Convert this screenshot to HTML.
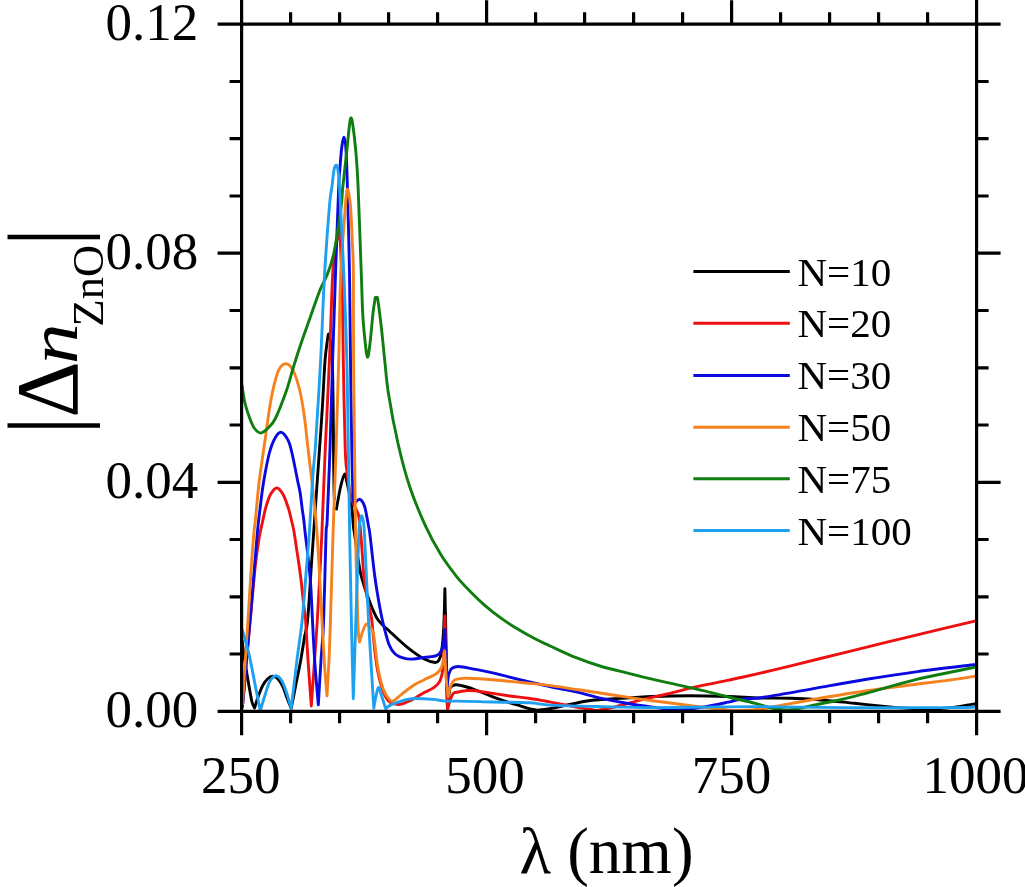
<!DOCTYPE html>
<html lang="en"><head><meta charset="utf-8"><title>ZnO refractive index difference</title>
<style>html,body{margin:0;padding:0;background:#fff}body{width:1025px;height:887px;position:relative;overflow:hidden;font-family:"Liberation Serif",serif}</style>
</head><body>
<svg width="1025" height="887" viewBox="0 0 1025 887" style="position:absolute;left:0;top:0">
<rect width="1025" height="887" fill="#fff"/>
<defs><clipPath id="cp"><rect x="241.6" y="-5.8" width="736.2" height="718.6"/></clipPath></defs>
<g fill="none" stroke-width="2.9" stroke-linejoin="round" stroke-linecap="butt" clip-path="url(#cp)">
<path d="M242.0 640.0C242.5 643.7 243.8 654.3 245.0 662.0C246.2 669.7 247.8 679.3 249.0 686.0C250.2 692.7 251.1 698.3 252.0 702.0C252.9 705.7 254.2 707.0 254.6 708.0C255.2 706.2 256.6 700.8 258.0 697.0C259.4 693.2 261.3 688.1 263.0 685.0C264.7 681.9 266.4 680.0 268.0 678.5C269.6 677.0 271.2 676.2 272.9 676.3C274.6 676.4 276.3 677.2 278.0 679.0C279.7 680.8 281.5 683.8 283.0 687.0C284.5 690.2 285.6 694.4 287.0 698.0C288.4 701.6 290.5 706.8 291.2 708.5C292.0 704.4 294.4 692.0 296.0 684.0C297.6 676.0 299.3 668.3 300.7 660.5C302.1 652.7 303.4 643.8 304.5 637.0C305.6 630.2 306.5 632.0 307.6 620.0C308.8 608.0 310.4 579.2 311.4 565.0C312.4 550.8 312.7 546.2 313.5 535.0C314.3 523.8 315.1 512.1 316.1 497.6C317.1 483.1 318.5 463.4 319.6 448.0C320.7 432.6 321.6 419.5 322.5 405.0C323.4 390.5 324.2 371.3 325.0 361.0C325.8 350.7 326.4 347.5 327.0 343.0C327.6 338.5 328.1 333.7 328.8 334.0C329.5 334.3 330.4 339.8 331.0 345.0C331.6 350.2 332.0 354.2 332.4 365.0C332.8 375.8 333.0 396.2 333.2 410.0C333.4 423.8 333.4 435.2 333.5 448.0C333.6 460.8 333.9 478.3 334.0 487.0C334.1 495.7 334.3 497.8 334.4 500.0M336.3 510.3C336.6 508.6 337.2 504.2 338.0 500.0C338.8 495.8 339.9 489.3 341.0 485.0C342.1 480.7 343.6 474.4 344.6 474.0C345.6 473.6 346.1 478.5 347.0 482.3C347.9 486.1 349.2 492.6 350.0 497.0C350.8 501.4 351.4 504.1 352.0 509.0C352.6 513.9 352.9 522.1 353.4 526.4C353.8 530.7 354.0 530.2 354.7 535.0C355.4 539.8 356.5 548.5 357.5 555.0C358.5 561.5 359.6 568.9 360.8 574.2C362.0 579.5 363.2 582.9 364.5 587.0C365.8 591.1 367.2 594.9 368.6 598.7C370.0 602.5 371.4 606.4 373.0 610.0C374.6 613.6 375.6 616.7 378.4 620.3C381.2 623.9 385.2 627.2 390.0 631.7C394.8 636.2 401.4 642.5 407.1 647.1C412.8 651.7 419.6 656.5 424.3 659.1C429.0 661.7 432.9 662.4 435.4 662.5C437.8 662.6 438.0 661.7 439.0 660.0C440.0 658.3 440.7 656.2 441.4 652.2C442.1 648.2 442.8 641.1 443.2 636.0C443.6 630.9 443.7 629.3 444.0 621.4C444.3 613.5 444.8 594.1 444.9 588.6C445.1 597.2 445.6 620.4 446.0 640.0C446.4 659.6 447.1 695.0 447.3 706.0C447.6 704.0 448.6 697.0 449.0 694.0C449.4 691.0 449.3 689.6 450.0 688.2C450.7 686.8 451.9 686.1 453.0 685.5C454.1 684.9 454.5 684.6 456.5 684.8C458.5 685.0 461.8 685.6 465.0 686.5C468.2 687.4 471.1 688.3 475.7 690.0C480.3 691.7 487.1 694.7 492.8 696.8C498.5 698.9 505.4 701.3 510.0 702.8C514.6 704.3 517.0 704.9 520.3 705.9C523.6 706.9 527.0 708.1 530.0 708.8C533.0 709.5 536.7 710.0 538.0 710.2C539.7 710.0 543.8 709.7 548.0 709.0C552.2 708.3 556.6 707.3 563.4 705.9C570.2 704.5 580.3 702.0 588.8 700.8C597.3 699.6 603.6 699.5 614.2 698.8C624.8 698.1 639.5 697.0 652.2 696.5C664.9 696.0 677.6 695.7 690.3 695.7C703.0 695.7 716.7 696.1 728.3 696.5C739.9 696.9 749.6 697.7 760.0 698.0C770.4 698.3 781.4 698.0 790.7 698.3C800.1 698.5 805.5 698.7 816.1 699.5C826.7 700.3 841.5 702.0 854.2 703.3C866.9 704.6 881.2 706.1 892.2 707.1C903.2 708.1 915.4 708.7 920.0 709.0C923.8 708.9 935.8 708.9 943.0 708.4C950.2 707.9 957.5 706.7 963.0 705.9C968.5 705.1 973.8 704.1 975.9 703.8" stroke="#000000"/>
<path d="M242.0 708.0C242.2 706.3 242.5 706.8 243.3 698.0C244.1 689.2 245.7 669.3 247.0 655.0C248.3 640.7 249.6 627.0 251.0 612.0C252.4 597.0 254.0 577.5 255.4 565.0C256.8 552.5 258.1 544.2 259.3 537.0C260.5 529.8 261.4 527.0 262.5 522.0C263.6 517.0 264.6 511.3 266.0 506.7C267.4 502.1 268.8 497.4 270.6 494.3C272.4 491.2 274.7 488.0 276.8 488.0C278.9 488.0 281.0 490.8 283.0 494.3C285.0 497.8 287.2 504.6 288.6 508.9C290.0 513.2 290.5 516.5 291.4 520.0C292.2 523.5 292.8 525.3 293.7 530.0C294.6 534.7 295.5 541.8 296.5 548.2C297.5 554.6 298.7 562.7 299.5 568.3C300.3 573.9 300.7 576.9 301.3 582.0C301.9 587.1 302.5 594.0 303.0 598.7C303.5 603.4 304.0 606.7 304.4 610.2C304.8 613.8 305.0 611.7 305.6 620.0C306.2 628.3 307.1 645.7 308.0 660.0C308.9 674.3 310.8 698.3 311.3 706.0C311.8 699.7 313.0 682.0 314.0 668.0C315.0 654.0 316.3 636.7 317.2 622.0C318.1 607.3 318.7 594.5 319.5 580.0C320.3 565.5 320.8 557.0 321.8 535.0C322.8 513.0 324.0 477.0 325.3 448.0C326.6 419.0 328.2 390.0 329.4 361.0C330.6 332.0 331.7 292.5 332.7 274.0C333.7 255.5 334.6 257.2 335.5 250.0C336.4 242.8 337.7 236.8 338.3 231.0C338.9 225.2 339.1 217.7 339.3 215.0C339.5 219.2 339.9 230.8 340.3 240.0C340.7 249.2 341.1 259.5 341.5 270.0C341.9 280.5 342.3 287.8 342.6 303.0C342.9 318.2 342.9 336.8 343.3 361.0C343.7 385.2 344.6 429.5 345.2 448.0C345.8 466.5 346.0 463.8 347.0 472.0C348.0 480.2 349.7 491.2 351.0 497.0C352.3 502.8 353.7 503.7 355.0 507.0C356.3 510.3 357.8 511.1 358.8 516.6C359.9 522.1 360.5 530.4 361.3 540.0C362.1 549.6 362.8 564.7 363.7 574.2C364.6 583.7 365.9 590.5 367.0 597.0C368.1 603.5 369.8 609.2 370.6 613.4C371.4 617.6 371.4 616.2 372.0 622.0C372.6 627.8 373.6 640.0 374.5 648.0C375.4 656.0 376.1 662.8 377.5 670.0C378.9 677.2 381.1 685.8 383.0 691.0C384.9 696.2 386.4 699.2 389.0 701.5C391.6 703.8 395.6 704.4 398.6 704.5C401.6 704.6 404.2 703.1 407.1 702.0C410.0 700.9 412.8 699.3 415.7 697.7C418.6 696.1 421.4 694.1 424.3 692.5C427.2 690.9 430.2 690.1 432.8 688.2C435.4 686.4 438.0 685.1 439.7 681.4C441.4 677.7 442.2 676.9 443.1 666.0C444.0 655.1 444.6 624.3 444.9 616.0C445.1 625.0 445.8 654.3 446.2 670.0C446.6 685.7 447.4 703.5 447.6 710.2C447.9 709.0 448.3 705.9 449.2 703.1C450.1 700.3 451.6 695.5 453.1 693.6C454.7 691.8 456.1 692.5 458.5 692.0C460.9 691.5 464.6 690.7 467.3 690.5C470.1 690.3 470.8 690.3 475.0 690.8C479.2 691.3 487.0 692.5 492.8 693.4C498.6 694.3 503.8 695.1 510.0 696.0C516.2 696.9 523.2 697.5 530.0 698.5C536.8 699.5 543.0 700.7 550.7 702.1C558.4 703.5 568.5 705.7 576.1 707.1C583.7 708.5 593.0 709.9 596.4 710.4C599.4 709.9 607.0 708.8 614.2 707.1C621.4 705.4 631.0 702.4 639.5 700.3C648.0 698.2 656.4 696.5 664.9 694.5C673.4 692.5 681.8 690.1 690.3 688.1C698.8 686.1 707.1 684.6 715.6 682.8C724.1 681.0 732.8 679.3 741.0 677.5C749.2 675.7 756.7 674.0 765.0 672.0C773.3 670.0 778.0 668.9 790.7 665.8C803.5 662.7 824.6 657.4 841.5 653.3C858.4 649.1 875.3 645.0 892.2 640.9C909.1 636.8 929.0 632.0 943.0 628.7C957.0 625.4 970.4 622.2 975.9 620.9" stroke="#ee1010"/>
<path d="M242.0 708.0C242.2 706.3 242.6 706.0 243.3 698.0C244.1 690.0 245.3 673.8 246.5 660.0C247.7 646.2 249.2 629.9 250.5 615.0C251.8 600.1 253.0 584.9 254.2 570.7C255.4 556.5 256.6 541.0 257.6 530.0C258.7 519.0 259.5 513.2 260.5 505.0C261.5 496.8 262.3 489.4 263.8 480.7C265.3 471.9 267.6 459.6 269.5 452.5C271.4 445.4 273.1 441.3 275.1 437.9C277.1 434.5 279.1 431.7 281.3 432.3C283.6 432.9 286.6 437.0 288.6 441.3C290.6 445.6 291.6 451.6 293.1 458.2C294.6 464.8 296.5 475.1 297.6 480.7C298.8 486.3 299.2 487.3 300.0 492.0C300.8 496.7 301.6 504.2 302.2 508.9C302.8 513.6 303.3 515.6 303.8 520.0C304.3 524.4 304.7 529.2 305.4 535.0C306.1 540.8 307.1 548.5 307.8 555.0C308.5 561.5 309.2 567.8 309.8 574.2C310.4 580.6 310.8 585.5 311.2 593.3C311.6 601.1 311.9 609.0 312.5 621.0C313.1 633.0 314.0 651.0 315.0 665.0C316.0 679.0 317.8 698.2 318.3 704.9C318.8 697.4 320.1 674.0 321.0 660.0C321.9 646.0 322.8 641.8 323.6 621.0C324.4 600.2 325.4 551.8 326.0 535.0C326.6 518.2 326.5 534.5 327.2 520.0C327.9 505.5 329.1 474.5 330.0 448.0C330.9 421.5 331.7 390.0 332.6 361.0C333.5 332.0 334.5 303.0 335.5 274.0C336.5 245.0 338.0 204.6 338.7 187.0C339.4 169.4 339.4 175.1 339.9 168.6C340.4 162.1 341.0 153.2 341.7 148.0C342.4 142.8 343.4 137.0 344.1 137.3C344.8 137.6 345.4 141.7 346.0 150.0C346.6 158.3 346.8 166.3 347.4 187.0C348.0 207.7 349.0 245.0 349.5 274.0C350.0 303.0 350.1 332.0 350.5 361.0C350.9 390.0 351.4 425.7 351.8 448.0C352.2 470.3 352.6 485.7 353.0 495.0C353.4 504.3 354.2 502.5 354.5 504.0C354.8 503.6 355.4 502.1 356.4 501.4C357.4 500.6 358.9 498.6 360.3 499.5C361.7 500.4 363.3 502.3 364.7 506.8C366.1 511.3 367.7 521.7 368.6 526.4C369.5 531.1 369.0 527.0 370.0 535.0C371.0 543.0 373.1 563.4 374.5 574.2C375.9 585.0 377.1 592.0 378.5 600.0C379.9 608.0 381.1 614.6 382.8 622.0C384.6 629.4 386.9 639.2 389.0 644.5C391.1 649.8 392.7 651.7 395.1 654.0C397.6 656.3 400.8 657.4 403.7 658.2C406.6 659.1 408.9 659.2 412.3 659.1C415.7 659.0 420.3 658.0 424.3 657.4C428.3 656.8 433.5 656.9 436.3 655.7C439.1 654.6 440.1 653.4 441.4 650.5C442.7 647.6 443.4 642.0 444.0 638.5C444.6 635.0 444.8 631.0 444.9 629.5C445.1 634.6 445.6 649.9 446.0 660.0C446.4 670.1 446.8 685.0 447.0 690.0C447.2 687.7 447.9 679.1 448.3 676.2C448.7 673.3 448.9 673.8 449.5 672.5C450.1 671.2 450.2 669.5 451.7 668.5C453.2 667.5 454.5 666.4 458.5 666.5C462.5 666.6 470.0 668.4 475.7 669.4C481.4 670.4 488.8 671.9 492.8 672.8C496.9 673.7 494.6 673.3 500.0 674.7C505.4 676.1 516.9 679.0 525.4 681.0C533.9 683.0 542.2 685.0 550.7 686.8C559.2 688.6 567.6 690.0 576.1 691.9C584.6 693.8 593.0 696.4 601.5 698.3C610.0 700.2 618.3 701.8 626.8 703.3C635.2 704.8 643.7 706.0 652.2 707.1C660.7 708.2 669.1 709.7 677.6 709.7C686.1 709.7 694.5 708.4 703.0 707.1C711.5 705.8 722.1 703.4 728.3 702.1C734.5 700.8 733.8 700.4 740.0 699.5C746.2 698.6 752.7 698.9 765.4 697.0C778.1 695.1 799.2 691.1 816.1 688.1C833.0 685.1 849.9 682.0 866.8 679.2C883.7 676.5 899.4 674.1 917.6 671.6C935.8 669.1 966.2 665.7 975.9 664.5" stroke="#0a0ae0"/>
<path d="M242.5 705.0C242.9 698.3 244.1 679.2 245.0 665.0C245.9 650.8 246.9 636.7 248.0 620.0C249.1 603.3 250.4 580.0 251.4 565.0C252.4 550.0 253.5 537.5 254.2 530.0C254.9 522.5 254.6 528.2 255.4 520.0C256.2 511.8 257.6 494.5 259.3 480.7C261.0 466.9 264.0 447.7 265.5 437.0C267.0 426.3 267.2 424.0 268.3 416.7C269.4 409.4 270.6 400.7 272.3 393.0C274.0 385.3 276.2 375.3 278.5 370.4C280.8 365.5 283.4 363.7 285.8 363.7C288.2 363.7 290.8 365.8 293.1 370.4C295.5 374.9 298.0 383.3 299.9 391.0C301.8 398.7 303.1 407.7 304.4 416.7C305.7 425.7 306.4 434.8 307.6 445.0C308.8 455.2 310.3 467.7 311.5 478.0C312.7 488.3 313.8 498.0 314.7 507.0C315.6 516.0 316.2 522.3 316.9 532.0C317.6 541.7 318.1 550.2 319.0 565.0C319.9 579.8 321.1 604.3 322.0 621.0C322.9 637.7 323.7 652.5 324.5 665.0C325.3 677.5 326.6 690.7 327.0 695.8C327.3 689.8 328.4 672.3 329.0 660.0C329.6 647.7 329.7 642.8 330.4 622.0C331.1 601.2 332.1 564.0 333.0 535.0C333.9 506.0 335.2 477.0 336.1 448.0C337.1 419.0 337.9 390.0 338.7 361.0C339.5 332.0 339.7 298.1 340.7 274.0C341.7 249.9 343.7 229.3 344.6 216.4C345.5 203.5 345.6 201.3 346.1 196.8C346.6 192.3 347.0 187.9 347.7 189.5C348.4 191.1 349.7 197.2 350.5 206.6C351.3 216.0 352.0 234.6 352.5 245.8C353.0 257.0 353.2 254.8 353.4 274.0C353.6 293.2 353.4 332.0 353.6 361.0C353.8 390.0 354.2 419.0 354.5 448.0C354.8 477.0 355.1 506.0 355.6 535.0C356.2 564.0 357.2 604.2 357.8 622.0C358.4 639.8 359.2 638.7 359.5 642.0C360.0 640.3 361.4 635.0 362.5 632.0C363.6 629.0 364.9 625.3 366.0 624.3C367.1 623.3 367.8 624.5 369.0 626.0C370.2 627.5 371.8 626.5 373.3 633.3C374.8 640.1 376.1 657.6 377.8 667.0C379.5 676.4 381.3 684.0 383.4 689.6C385.5 695.2 388.4 698.7 390.2 700.5C392.0 702.3 392.6 701.1 394.0 700.5C395.4 699.9 396.4 698.5 398.6 696.8C400.8 695.0 404.2 692.1 407.1 690.0C410.0 687.9 412.8 685.7 415.7 684.0C418.6 682.3 420.9 681.4 424.3 679.7C427.7 678.0 433.5 675.7 436.3 673.7C439.1 671.7 440.2 670.2 441.4 667.7C442.6 665.2 442.9 661.8 443.5 659.0C444.1 656.2 444.5 652.3 444.7 651.0C445.0 655.8 445.7 672.3 446.3 680.0C446.9 687.7 447.9 694.2 448.2 697.0C448.4 695.8 448.6 692.4 449.3 690.0C450.0 687.6 451.4 684.3 452.4 682.6C453.4 680.9 453.7 680.4 455.1 679.7C456.5 679.0 459.0 678.8 461.0 678.6C463.0 678.4 461.8 678.1 467.1 678.3C472.4 678.5 485.7 679.2 492.8 679.7C499.9 680.2 503.8 680.8 510.0 681.4C516.2 682.0 523.2 682.7 530.0 683.4C536.8 684.1 538.8 684.0 550.7 685.6C562.6 687.2 584.6 690.7 601.5 693.2C618.4 695.7 635.3 698.5 652.2 700.8C669.1 703.1 690.3 705.5 703.0 707.1C715.7 708.7 722.1 709.6 728.3 710.2C734.5 710.8 734.7 710.7 740.0 710.5C745.3 710.3 753.7 710.0 760.0 709.2C766.3 708.4 768.6 707.6 778.0 705.9C787.4 704.2 801.3 701.5 816.1 699.0C830.9 696.5 849.9 693.3 866.8 690.8C883.7 688.3 903.7 685.8 917.6 684.0C931.5 682.2 940.3 681.3 950.0 680.0C959.7 678.7 971.6 676.7 975.9 676.0" stroke="#f5821e"/>
<path d="M242.0 385.0C242.4 387.8 243.5 396.7 244.7 402.0C245.9 407.3 247.6 412.4 249.2 416.7C250.8 421.0 252.2 425.3 254.2 428.0C256.2 430.7 258.7 433.0 261.0 433.0C263.3 433.0 265.6 430.3 268.0 428.0C270.4 425.7 272.0 425.2 275.1 419.0C278.2 412.8 283.4 399.2 286.4 390.7C289.4 382.2 290.8 375.6 293.1 368.2C295.4 360.8 297.2 354.9 300.0 346.5C302.8 338.1 306.7 327.4 310.0 318.0C313.3 308.6 317.1 297.3 320.0 290.0C322.9 282.7 325.3 279.7 327.5 274.0C329.7 268.3 331.6 262.8 333.3 255.6C335.0 248.4 336.4 239.3 337.7 231.1C339.0 222.9 340.3 213.9 341.2 206.6C342.1 199.2 341.9 196.4 342.8 187.0C343.8 177.6 345.8 160.3 346.9 150.0C348.0 139.7 348.8 130.4 349.5 125.0C350.2 119.6 350.4 117.6 351.0 117.6C351.6 117.6 352.0 119.6 352.8 125.0C353.6 130.4 354.8 139.7 355.7 150.0C356.6 160.3 357.2 166.3 358.1 187.0C359.0 207.7 360.5 253.0 361.3 274.0C362.1 295.0 362.1 301.8 362.7 313.2C363.3 324.6 364.4 335.2 365.2 342.6C366.0 350.0 366.8 357.3 367.6 357.3C368.4 357.3 369.2 350.0 370.1 342.6C371.0 335.2 372.2 320.4 373.0 313.2C373.8 306.0 374.7 301.5 375.0 299.2C375.1 298.9 374.9 297.7 375.3 297.4C375.7 297.1 377.0 297.4 377.4 297.4C377.6 298.5 377.7 298.7 378.4 303.8C379.1 308.9 380.3 318.4 381.4 327.9C382.5 337.4 383.6 349.8 384.8 361.0C386.0 372.2 386.4 381.0 388.7 395.0C390.9 409.0 394.8 429.5 398.3 444.8C401.8 460.1 405.3 473.6 409.8 487.0C414.3 500.4 420.1 514.1 425.2 525.3C430.3 536.5 435.4 545.6 440.5 554.0C445.6 562.4 451.4 569.9 455.8 575.6C460.2 581.3 462.4 583.3 467.1 588.2C471.8 593.1 478.5 599.8 484.2 604.8C489.9 609.8 495.7 614.3 501.4 618.4C507.1 622.5 512.9 626.2 518.5 629.6C524.1 633.0 529.6 636.0 535.0 638.8C540.4 641.6 543.9 643.1 550.7 646.3C557.6 649.4 567.6 654.3 576.1 657.7C584.6 661.1 593.0 664.0 601.5 666.5C610.0 669.0 618.3 670.8 626.8 672.9C635.2 675.0 643.7 677.2 652.2 679.2C660.7 681.2 669.1 682.9 677.6 684.8C686.1 686.7 694.5 688.6 703.0 690.6C711.5 692.6 719.6 694.9 728.3 697.0C737.0 699.1 747.8 701.4 755.2 703.3C762.7 705.2 767.1 707.3 773.0 708.4C778.9 709.5 783.5 710.3 790.7 709.7C797.9 709.1 807.6 706.3 816.1 704.6C824.6 702.9 833.0 701.4 841.5 699.5C850.0 697.6 854.1 696.6 866.8 693.2C879.5 689.8 899.4 683.6 917.6 679.2C935.8 674.8 966.2 669.0 975.9 667.0" stroke="#0f7d0f"/>
<path d="M242.0 629.0C243.2 633.2 246.8 644.7 249.0 654.2C251.2 663.7 253.4 676.3 255.3 685.8C257.2 695.3 259.5 706.8 260.3 711.0C261.1 708.3 263.4 700.0 265.0 695.0C266.6 690.0 268.1 684.2 270.0 681.0C271.9 677.8 274.1 675.7 276.1 675.7C278.1 675.7 280.2 678.0 282.0 681.0C283.8 684.0 285.5 689.4 287.0 694.0C288.5 698.6 290.5 706.1 291.2 708.5C292.1 700.5 295.1 675.2 296.9 660.5C298.7 645.8 300.6 635.9 302.2 620.0C303.8 604.1 305.5 579.7 306.7 565.0C307.9 550.3 308.4 547.0 309.4 532.0C310.4 517.0 311.9 489.5 312.9 475.0C313.9 460.5 314.2 464.0 315.5 445.0C316.8 426.0 319.1 389.5 320.6 361.0C322.1 332.5 323.1 299.7 324.6 274.0C326.1 248.3 328.2 221.1 329.4 206.6C330.6 192.1 331.1 193.1 331.9 187.0C332.7 180.9 333.3 173.6 334.0 170.0C334.7 166.4 335.6 164.9 336.3 165.2C337.0 165.5 337.7 168.4 338.2 172.0C338.7 175.6 338.6 170.0 339.5 187.0C340.4 204.0 342.6 245.0 343.8 274.0C345.0 303.0 346.1 332.0 346.8 361.0C347.6 390.0 347.8 419.0 348.3 448.0C348.8 477.0 349.2 506.0 349.7 535.0C350.2 564.0 350.8 594.7 351.4 622.0C352.0 649.3 353.0 685.9 353.3 698.7C353.7 685.9 354.9 649.3 355.8 622.0C356.7 594.7 358.1 552.0 358.8 535.0C359.6 518.0 359.8 523.2 360.3 520.0C360.8 516.8 361.2 515.6 361.6 515.6C362.1 515.6 362.5 516.8 363.0 520.0C363.5 523.2 363.6 518.0 364.5 535.0C365.4 552.0 367.1 593.1 368.6 622.0C370.2 650.9 372.9 693.8 373.8 708.2C374.2 706.2 375.2 699.5 376.0 696.0C376.8 692.5 377.6 687.7 378.4 687.4C379.2 687.1 379.8 690.4 381.0 694.0C382.2 697.6 384.9 706.3 385.7 708.8C386.4 708.2 387.9 706.5 390.0 705.4C392.1 704.3 395.8 703.0 398.6 702.0C401.5 701.0 404.2 700.0 407.1 699.4C410.0 698.8 411.4 698.5 415.7 698.5C420.0 698.5 427.9 699.0 432.8 699.4C437.7 699.8 440.5 700.8 444.8 701.1C449.1 701.4 450.5 701.0 458.5 701.1C466.5 701.2 480.9 701.7 492.8 702.0C504.7 702.3 520.4 702.3 530.0 702.8C539.6 703.3 538.8 704.5 550.7 705.1C562.6 705.7 584.6 706.2 601.5 706.6C618.4 707.0 635.3 707.5 652.2 707.6C669.1 707.7 685.0 707.3 703.0 707.1C721.0 706.9 736.9 706.5 760.0 706.6C783.1 706.7 811.0 707.4 841.5 707.6C872.0 707.8 920.6 707.7 943.0 707.6C965.4 707.5 970.4 707.2 975.9 707.1" stroke="#1ea0f0"/>
</g>
<g stroke="#000" stroke-width="3.2" fill="none" stroke-linecap="butt">
<path d="M217.6 24.2 H1000.6M217.6 711.3 H1000.6M241.6 -0.8 V735.3M976.6 -0.8 V735.3M241.6 711.3 V735.3M241.6 24.2 V0.2M290.6 711.3 V723.3M290.6 24.2 V12.2M339.6 711.3 V723.3M339.6 24.2 V12.2M388.6 711.3 V723.3M388.6 24.2 V12.2M437.6 711.3 V723.3M437.6 24.2 V12.2M486.6 711.3 V735.3M486.6 24.2 V0.2M535.6 711.3 V723.3M535.6 24.2 V12.2M584.6 711.3 V723.3M584.6 24.2 V12.2M633.6 711.3 V723.3M633.6 24.2 V12.2M682.6 711.3 V723.3M682.6 24.2 V12.2M731.6 711.3 V735.3M731.6 24.2 V0.2M780.6 711.3 V723.3M780.6 24.2 V12.2M829.6 711.3 V723.3M829.6 24.2 V12.2M878.6 711.3 V723.3M878.6 24.2 V12.2M927.6 711.3 V723.3M927.6 24.2 V12.2M976.6 711.3 V735.3M976.6 24.2 V0.2M241.6 711.3 H217.6M976.6 711.3 H1000.6M241.6 654.0 H229.6M976.6 654.0 H988.6M241.6 596.8 H229.6M976.6 596.8 H988.6M241.6 539.5 H229.6M976.6 539.5 H988.6M241.6 482.3 H217.6M976.6 482.3 H1000.6M241.6 425.0 H229.6M976.6 425.0 H988.6M241.6 367.8 H229.6M976.6 367.8 H988.6M241.6 310.5 H229.6M976.6 310.5 H988.6M241.6 253.2 H217.6M976.6 253.2 H1000.6M241.6 196.0 H229.6M976.6 196.0 H988.6M241.6 138.7 H229.6M976.6 138.7 H988.6M241.6 81.5 H229.6M976.6 81.5 H988.6M241.6 24.2 H217.6M976.6 24.2 H1000.6"/>
</g>
<g stroke-width="3" fill="none">
<path d="M693.4 271.4 H789.8" stroke="#000000"/>
<path d="M693.4 323.3 H789.8" stroke="#ee1010"/>
<path d="M693.4 375.6 H789.8" stroke="#0a0ae0"/>
<path d="M693.4 427.2 H789.8" stroke="#f5821e"/>
<path d="M693.4 478.8 H789.8" stroke="#0f7d0f"/>
<path d="M693.4 530.4 H789.8" stroke="#1ea0f0"/>
</g>
<g font-family="'Liberation Serif', serif" fill="#000">
<text x="198.3" y="40.0" font-size="53.0" text-anchor="end">0.12</text>
<text x="198.3" y="269.0" font-size="53.0" text-anchor="end">0.08</text>
<text x="198.3" y="498.0" font-size="53.0" text-anchor="end">0.04</text>
<text x="198.3" y="727.0" font-size="53.0" text-anchor="end">0.00</text>
<text x="240.7" y="793.0" font-size="53.0" text-anchor="middle">250</text>
<text x="485.1" y="793.0" font-size="53.0" text-anchor="middle">500</text>
<text x="731.6" y="793.0" font-size="53.0" text-anchor="middle">750</text>
<text x="975.4" y="793.0" font-size="53.0" text-anchor="middle">1000</text>
<text x="606.5" y="872.5" font-size="65.0" text-anchor="middle">λ (nm)</text>
<text x="797.5" y="285.6" font-size="41.0" text-anchor="start">N=10</text>
<text x="797.5" y="337.4" font-size="41.0" text-anchor="start">N=20</text>
<text x="797.5" y="389.3" font-size="41.0" text-anchor="start">N=30</text>
<text x="797.5" y="441.1" font-size="41.0" text-anchor="start">N=50</text>
<text x="797.5" y="492.9" font-size="41.0" text-anchor="start">N=75</text>
<text x="797.5" y="544.7" font-size="41.0" text-anchor="start">N=100</text>
<text x="78.3" y="434.2" font-size="102.0" text-anchor="start" transform="rotate(-90 78.3 434.2)" textLength="17.5" lengthAdjust="spacingAndGlyphs">|</text>
<text x="76.6" y="417.7" font-size="88.0" text-anchor="start" transform="rotate(-90 76.6 417.7)">Δ</text>
<text x="76.8" y="364.2" font-size="69.5" text-anchor="start" transform="rotate(-90 76.8 364.2)" font-style="italic" textLength="41.0" lengthAdjust="spacingAndGlyphs">n</text>
<text x="102.6" y="326.5" font-size="44.5" text-anchor="start" transform="rotate(-90 102.6 326.5)">ZnO</text>
<text x="78.3" y="245.8" font-size="102.0" text-anchor="start" transform="rotate(-90 78.3 245.8)" textLength="17.5" lengthAdjust="spacingAndGlyphs">|</text>
</g>
</svg>
</body></html>
